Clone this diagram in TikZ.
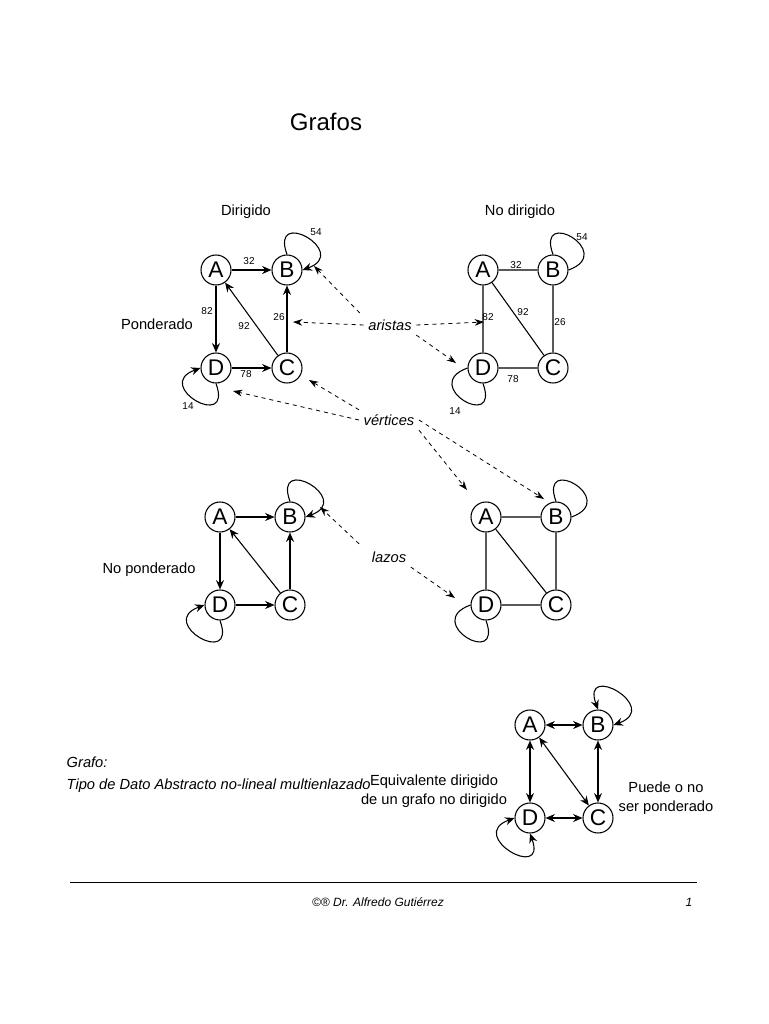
\documentclass[tikz,border=0pt]{standalone}
\usepackage{fontspec}
\setmainfont{Liberation Sans}
\usetikzlibrary{arrows.meta}
\begin{document}
\begin{tikzpicture}[x=0.75pt,y=-0.75pt,
 vtx/.style={circle,draw,thick,minimum size=22.5pt,inner sep=0pt,font=\fontsize{17}{17}\selectfont},
 ed/.style={thick},
 ar/.style={thick,-{Stealth[length=7pt,width=6pt]}},
 bar/.style={thick,{Stealth[length=7pt,width=6pt]}-{Stealth[length=7pt,width=6pt]}},
 wt/.style={font=\fontsize{7.5}{8}\selectfont},
 lbl/.style={font=\fontsize{11}{12}\selectfont},
 ilbl/.style={font=\fontsize{11}{12}\selectfont\itshape},
 dsh/.style={dashed,semithick,-{Stealth[length=7pt,width=5pt]}}]
\useasboundingbox (0,0) rectangle (768,1024);
\node[font=\fontsize{18}{20}\selectfont] (title) at (326,122) {Grafos};
\node[lbl] (dir) at (246,212) {Dirigido};
\node[lbl] (ndir) at (520,212) {No dirigido};
\node[lbl] (pond) at (157,324) {Ponderado};
\node[lbl] (npond) at (149,570) {No ponderado};
% graph 1
\node[vtx] (a1) at (216,270) {A};
\node[vtx] (b1) at (287,270) {B};
\node[vtx] (d1) at (216,368) {D};
\node[vtx] (c1) at (287,368) {C};
\draw[ar] (a1) -- (b1);
\draw[ar] (a1) -- (d1);
\draw[ar] (c1) -- (a1);
\draw[ar] (d1) -- (c1);
\draw[ar] (c1) -- (b1);
\draw[ar] (b1.north) to[out=110,in=20,looseness=6] (b1.east);
\draw[ar] (d1.south) to[out=-70,in=200,looseness=6] (d1.west);
\node[wt] (w1) at (249,261) {32};
\node[wt] (w2) at (316,232) {54};
\node[wt] (w3) at (207,311) {82};
\node[wt] (w4) at (244,326) {92};
\node[wt] (w5) at (279,317) {26};
\node[wt] (w6) at (246,374) {78};
\node[wt] (w7) at (188,406) {14};
% graph 2
\node[vtx] (a2) at (483,270) {A};
\node[vtx] (b2) at (553,270) {B};
\node[vtx] (d2) at (483,368) {D};
\node[vtx] (c2) at (553,368) {C};
\draw[ed] (a2) -- (b2) (a2) -- (d2) (a2) -- (c2) (d2) -- (c2) (b2) -- (c2);
\draw[ed] (b2.north) to[out=110,in=20,looseness=6] (b2.east);
\draw[ed] (d2.south) to[out=-70,in=200,looseness=6] (d2.west);
\node[wt] (x1) at (516,265) {32};
\node[wt] (x2) at (582,237) {54};
\node[wt] (x3) at (488,317) {82};
\node[wt] (x4) at (523,312) {92};
\node[wt] (x5) at (560,322) {26};
\node[wt] (x6) at (513,379) {78};
\node[wt] (x7) at (455,411) {14};
% graph 3
\node[vtx] (a3) at (220,517) {A};
\node[vtx] (b3) at (290,517) {B};
\node[vtx] (d3) at (220,605) {D};
\node[vtx] (c3) at (290,605) {C};
\draw[ar] (a3) -- (b3);
\draw[ar] (a3) -- (d3);
\draw[ar] (c3) -- (a3);
\draw[ar] (d3) -- (c3);
\draw[ar] (c3) -- (b3);
\draw[ar] (b3.north) to[out=110,in=20,looseness=6] (b3.east);
\draw[ar] (d3.south) to[out=-70,in=200,looseness=6] (d3.west);
% graph 4
\node[vtx] (a4) at (486,517) {A};
\node[vtx] (b4) at (556,517) {B};
\node[vtx] (d4) at (486,605) {D};
\node[vtx] (c4) at (556,605) {C};
\draw[ed] (a4) -- (b4) (a4) -- (d4) (a4) -- (c4) (d4) -- (c4) (b4) -- (c4);
\draw[ed] (b4.north) to[out=110,in=20,looseness=6] (b4.east);
\draw[ed] (d4.south) to[out=-70,in=200,looseness=6] (d4.west);
% labels with dashed arrows
\node[ilbl] (ari) at (390,325) {aristas};
\node[ilbl] (ver) at (389,420) {vértices};
\node[ilbl] (laz) at (389,557) {lazos};
\coordinate (t1) at (293,322);
\coordinate (t2) at (314,266);
\coordinate (t3) at (484,322);
\coordinate (t4) at (456,363);
\coordinate (t5) at (233,391);
\coordinate (t6) at (309,380);
\coordinate (t7) at (467,490);
\coordinate (t8) at (544,499);
\coordinate (t9) at (320,507);
\coordinate (t10) at (455,598);
\draw[dsh] (ari.west) -- (t1);
\draw[dsh] (ari.north west) ++(-4,-2) -- (t2);
\draw[dsh] (ari.east) -- (t3);
\draw[dsh] (ari.south east) -- (t4);
\draw[dsh] (ver.west) -- (t5);
\draw[dsh] (ver.north west) -- (t6);
\draw[dsh] (ver.south east) -- (t7);
\draw[dsh] (ver.east) -- (t8);
\draw[dsh] (laz.north west) ++(-8,-3) -- (t9);
\draw[dsh] (laz.south east) -- (t10);
% graph 5
\node[vtx] (a5) at (530,725) {A};
\node[vtx] (b5) at (598,725) {B};
\node[vtx] (d5) at (530,818) {D};
\node[vtx] (c5) at (598,818) {C};
\draw[bar] (a5) -- (b5);
\draw[bar] (a5) -- (d5);
\draw[bar] (a5) -- (c5);
\draw[bar] (d5) -- (c5);
\draw[bar] (b5) -- (c5);
\draw[bar] (b5.north) to[out=110,in=20,looseness=6] (b5.east);
\draw[bar] (d5.south) to[out=-70,in=200,looseness=6] (d5.west);
\node[ilbl,anchor=west] (g1) at (62,762) {Grafo:};
\node[ilbl,anchor=west] (g2) at (62,786) {Tipo de Dato Abstracto no-lineal multienlazado};
\node[lbl,align=center] (eq) at (434,791) {Equivalente dirigido\\[2pt]de un grafo no dirigido};
\node[lbl,align=center] (pu) at (666,798) {Puede o no\\[2pt]ser ponderado};
\coordinate (l1) at (70,882);
\coordinate (l2) at (697,882);
\draw[semithick] (l1) -- (l2);
\node[font=\fontsize{9}{10}\selectfont\itshape] (ft) at (378,902) {©® Dr. Alfredo Gutiérrez};
\node[font=\fontsize{9}{10}\selectfont\itshape] (pg) at (689,902) {1};
\end{tikzpicture}
\end{document}
